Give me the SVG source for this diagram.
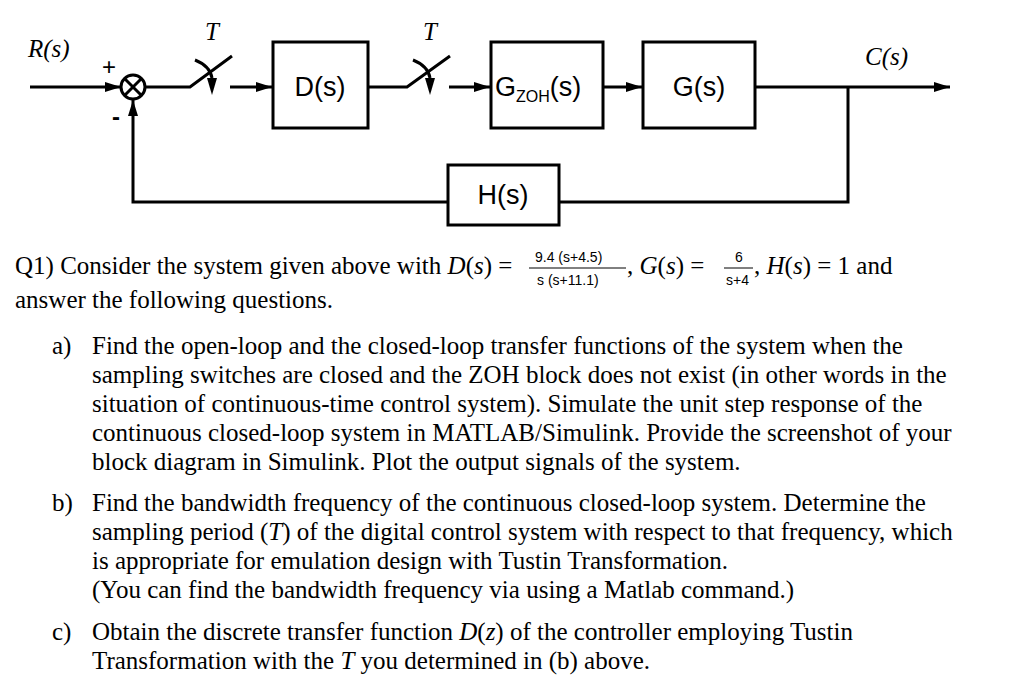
<svg xmlns="http://www.w3.org/2000/svg" width="1024" height="683" viewBox="0 0 1024 683">
<defs>
<marker id="ah" markerWidth="16" markerHeight="10" refX="16" refY="5" orient="auto" markerUnits="userSpaceOnUse"><path d="M0,0 L16,5 L0,10 Z" fill="#000"/></marker>
<style>
.b{fill:#fff;stroke:#000;stroke-width:3}
.l{fill:none;stroke:#000;stroke-width:3}
.s{font-family:"Liberation Sans",Arial,sans-serif;font-size:27px;text-anchor:middle}
.i{font-family:"Liberation Serif","Times New Roman",serif;font-style:italic;font-size:25px}
.t{font-family:"Liberation Serif","Times New Roman",serif;font-size:25px}
.f{font-family:"Liberation Sans",Arial,sans-serif;font-size:14px}
</style>
</defs>
<rect width="1024" height="683" fill="#fff"/>
<g id="connectors">
<line class="l" x1="30" y1="87" x2="121" y2="87" marker-end="url(#ah)"/>
<polyline class="l" points="145,87 190,87 232,56"/>
<path class="l" d="M195,60 Q210,66 212,78" stroke-width="2"/>
<path d="M207,78 L212,95 L217,78 Z"/>
<line class="l" x1="230" y1="87" x2="272" y2="87" marker-end="url(#ah)"/>
<polyline class="l" points="368,87 407,87 450,56"/>
<path class="l" d="M413,60 Q428,66 430,78" stroke-width="2"/>
<path d="M425,78 L430,95 L435,78 Z"/>
<line class="l" x1="449" y1="87" x2="490" y2="87" marker-end="url(#ah)"/>
<line class="l" x1="603" y1="87" x2="642" y2="87" marker-end="url(#ah)"/>
<line class="l" x1="755" y1="87" x2="950" y2="87" marker-end="url(#ah)"/>
<polyline class="l" points="848,87 848,202 559,202"/>
<polyline class="l" points="448,202 133,202 133,100" marker-end="url(#ah)"/>
</g>
<g id="sum">
<circle cx="133" cy="87" r="12" class="b"/>
<line x1="125" y1="79" x2="141" y2="95" stroke="#000" stroke-width="3"/>
<line x1="141" y1="79" x2="125" y2="95" stroke="#000" stroke-width="3"/>
<text x="102" y="75" font-family="Liberation Sans,sans-serif" font-size="24">+</text>
<text x="112" y="125" font-family="Liberation Sans,sans-serif" font-size="24" font-weight="bold">-</text>
</g>
<text class="i" x="28" y="57">R(s)</text>
<text class="i" x="205" y="40">T</text>
<text class="i" x="423" y="40">T</text>
<text class="i" x="865" y="65">C(s)</text>
<g id="D"><rect class="b" x="273" y="42" width="95" height="86"/><text class="s" x="320" y="96">D(s)</text></g>
<g id="GZOH"><rect class="b" x="491" y="42" width="112" height="86"/><text x="495" y="96" font-family="Liberation Sans,sans-serif" font-size="27">G<tspan font-size="16" dy="6">ZOH</tspan><tspan dy="-6">(s)</tspan></text></g>
<g id="G"><rect class="b" x="643" y="42" width="112" height="86"/><text class="s" x="699" y="96">G(s)</text></g>
<g id="H"><rect class="b" x="448" y="165" width="111" height="60"/><text class="s" x="503" y="204">H(s)</text></g>
<g class="t">
<text x="15" y="274">Q1) Consider the system given above with <tspan font-style="italic">D</tspan>(<tspan font-style="italic">s</tspan>) =</text>
<text class="f" x="535" y="262">9.4 (s+4.5)</text>
<line x1="529" y1="268" x2="626" y2="268" stroke="#000" stroke-width="1"/>
<text class="f" x="537" y="285">s (s+11.1)</text>
<text x="627" y="274">, <tspan font-style="italic">G</tspan>(<tspan font-style="italic">s</tspan>) =</text>
<text class="f" x="735" y="262">6</text>
<line x1="724" y1="268" x2="753" y2="268" stroke="#000" stroke-width="1"/>
<text class="f" x="726" y="285">s+4</text>
<text x="754" y="274">, <tspan font-style="italic">H</tspan>(<tspan font-style="italic">s</tspan>) = 1 and</text>
<text x="15" y="308">answer the following questions.</text>
<text x="52" y="354">a)</text>
<text x="92" y="354">Find the open-loop and the closed-loop transfer functions of the system when the</text>
<text x="92" y="383">sampling switches are closed and the ZOH block does not exist (in other words in the</text>
<text x="92" y="412">situation of continuous-time control system). Simulate the unit step response of the</text>
<text x="92" y="441">continuous closed-loop system in MATLAB/Simulink. Provide the screenshot of your</text>
<text x="92" y="470">block diagram in Simulink. Plot the output signals of the system.</text>
<text x="52" y="511">b)</text>
<text x="92" y="511">Find the bandwidth frequency of the continuous closed-loop system. Determine the</text>
<text x="92" y="540">sampling period (<tspan font-style="italic">T</tspan>) of the digital control system with respect to that frequency, which</text>
<text x="92" y="569">is appropriate for emulation design with Tustin Transformation.</text>
<text x="92" y="598">(You can find the bandwidth frequency via using a Matlab command.)</text>
<text x="52" y="640">c)</text>
<text x="92" y="640">Obtain the discrete transfer function <tspan font-style="italic">D</tspan>(<tspan font-style="italic">z</tspan>) of the controller employing Tustin</text>
<text x="92" y="669">Transformation with the <tspan font-style="italic">T</tspan> you determined in (b) above.</text>
</g>
</svg>
